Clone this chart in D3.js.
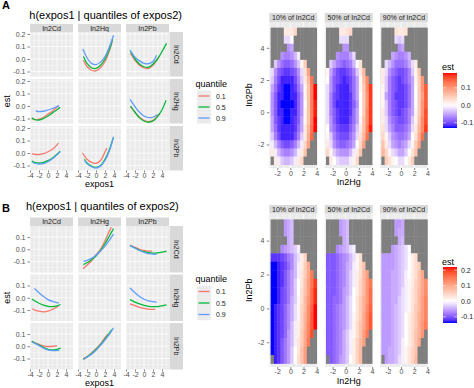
<!DOCTYPE html>
<html>
<head>
<meta charset="utf-8">
<script src="https://cdn.jsdelivr.net/npm/d3@7/dist/d3.min.js"></script>
<style>
  body { margin: 0; background: #fff; }
  svg { display: block; }
  text { font-family: "Liberation Sans", Arial, Helvetica, sans-serif; }
</style>
</head>
<body>
<svg id="fig" width="474" height="388"></svg>
<script>
// ---------------------------------------------------------------------------
// data
// ---------------------------------------------------------------------------
const _ = null; // NA tile

const facetVars = ["In2Cd", "In2Hg", "In2Pb"];
const quantileLevels = ["0.1", "0.5", "0.9"];
const quantileColors = ["#F8766D", "#00BA38", "#619CFF"];
const expos1Ticks = [-4, -2, 0, 2, 4];
const estTicksA = [-0.1, 0.0, 0.1, 0.2];
const estTicksB = [-0.1, 0.0, 0.1];

const heatStrips = ["10% of In2Cd", "50% of In2Cd", "90% of In2Cd"];
const heatXTicks = [-2, 0, 2, 4];
const heatYTicks = [-2, 0, 2, 4];
const heatXCenters = [-2.75, -2.25, -1.75, -1.25, -0.75, -0.25, 0.25, 0.75, 1.25, 1.75, 2.25, 2.75, 3.25, 3.75];
const heatYCenters = [5, 4.5, 4, 3.5, 3, 2.5, 2, 1.5, 1, 0.5, 0, -0.5, -1, -1.5, -2, -2.5, -3];
const estRangeA = [-0.13, 0.185];
const estRangeB = [-0.14, 0.22];
const legendTicksA = [-0.1, 0.0, 0.1];
const legendTicksB = [-0.1, 0.0, 0.1, 0.2];

// h(expos1 | quantiles of expos2): [expos1, est]
const curvesA = [
  { row: "In2Cd", col: "In2Hg", q: "0.1", pts: [[-2.8,-0.01],[-2,-0.06],[-1,-0.09],[0,-0.095],[1,-0.07],[2,-0.02],[3,0.07],[3.6,0.14]] },
  { row: "In2Cd", col: "In2Hg", q: "0.5", pts: [[-2.8,0.02],[-2,-0.035],[-1,-0.07],[0,-0.075],[1,-0.05],[2,0.0],[3,0.08],[3.7,0.16]] },
  { row: "In2Cd", col: "In2Hg", q: "0.9", pts: [[-2.9,0.08],[-2,0.01],[-1,-0.035],[0,-0.045],[1,-0.025],[2,0.02],[3,0.1],[3.9,0.19]] },
  { row: "In2Cd", col: "In2Pb", q: "0.1", pts: [[-3,0.045],[-2,-0.01],[-1,-0.05],[0,-0.072],[1,-0.075],[2,-0.05],[3,0.0],[3.4,0.02]] },
  { row: "In2Cd", col: "In2Pb", q: "0.5", pts: [[-3,0.06],[-2,0.0],[-1,-0.04],[0,-0.062],[1,-0.065],[2,-0.04],[3,0.0],[4,0.06],[5,0.125]] },
  { row: "In2Cd", col: "In2Pb", q: "0.9", pts: [[-3.1,0.072],[-2,0.015],[-1,-0.015],[0,-0.035],[1,-0.038],[2,-0.02],[2.8,0.03]] },
  { row: "In2Hg", col: "In2Cd", q: "0.1", pts: [[-3.6,-0.1],[-3,-0.108],[-2,-0.105],[-1,-0.09],[0,-0.065],[1,-0.04],[2,-0.01],[2.3,0.0]] },
  { row: "In2Hg", col: "In2Cd", q: "0.5", pts: [[-3.6,-0.095],[-3,-0.108],[-2,-0.112],[-1,-0.1],[0,-0.08],[1,-0.055],[2,-0.03],[2.7,-0.01]] },
  { row: "In2Hg", col: "In2Cd", q: "0.9", pts: [[-2.7,-0.04],[-2,-0.045],[-1,-0.042],[0,-0.032],[1,-0.02],[2,-0.005],[2.4,0.005]] },
  { row: "In2Hg", col: "In2Pb", q: "0.1", pts: [[-3,-0.005],[-2,-0.05],[-1,-0.09],[0,-0.115],[1,-0.125],[2,-0.115],[3,-0.08],[3.5,-0.06]] },
  { row: "In2Hg", col: "In2Pb", q: "0.5", pts: [[-3,0.0],[-2,-0.05],[-1,-0.095],[0,-0.12],[1,-0.13],[2,-0.12],[3,-0.085],[4,-0.03],[4.9,0.045]] },
  { row: "In2Hg", col: "In2Pb", q: "0.9", pts: [[-3.1,0.053],[-2,-0.005],[-1,-0.05],[0,-0.08],[1,-0.093],[2,-0.09],[3,-0.068]] },
  { row: "In2Pb", col: "In2Cd", q: "0.1", pts: [[-3.6,-0.005],[-3,-0.01],[-2,-0.012],[-1,-0.005],[0,0.01],[1,0.03],[2,0.065],[2.3,0.08]] },
  { row: "In2Pb", col: "In2Cd", q: "0.5", pts: [[-3.6,-0.065],[-3,-0.075],[-2,-0.08],[-1,-0.075],[0,-0.06],[1,-0.04],[2,-0.01],[2.7,0.015]] },
  { row: "In2Pb", col: "In2Cd", q: "0.9", pts: [[-3.4,-0.075],[-3,-0.082],[-2,-0.088],[-1,-0.085],[0,-0.07],[1,-0.045],[2,-0.015],[2.7,0.01]] },
  { row: "In2Pb", col: "In2Hg", q: "0.1", pts: [[-3,0.0],[-2,-0.05],[-1,-0.075],[0,-0.082],[1,-0.06],[2,0.01],[2.4,0.04]] },
  { row: "In2Pb", col: "In2Hg", q: "0.5", pts: [[-2.6,-0.05],[-2,-0.08],[-1,-0.105],[0,-0.115],[1,-0.1],[2,-0.05],[3,0.03],[3.8,0.12]] },
  { row: "In2Pb", col: "In2Hg", q: "0.9", pts: [[-2.5,-0.06],[-2,-0.085],[-1,-0.11],[0,-0.12],[1,-0.105],[2,-0.06],[3,0.02],[3.9,0.13]] }
];

const curvesB = [
  { row: "In2Cd", col: "In2Hg", q: "0.1", pts: [[-2.9,-0.16],[-2,-0.13],[-1,-0.095],[0,-0.045],[1,0.0],[2,0.07],[3,0.15],[3.4,0.18]] },
  { row: "In2Cd", col: "In2Hg", q: "0.5", pts: [[-2.8,-0.125],[-2,-0.11],[-1,-0.085],[0,-0.055],[1,-0.01],[2,0.045],[3,0.11],[3.9,0.17]] },
  { row: "In2Cd", col: "In2Hg", q: "0.9", pts: [[-2.8,-0.097],[-2,-0.09],[-1,-0.075],[0,-0.05],[1,-0.015],[2,0.025],[3,0.075],[3.9,0.125]] },
  { row: "In2Cd", col: "In2Pb", q: "0.1", pts: [[-3.1,0.035],[-2,0.015],[-1,0.0],[0,-0.01],[1,-0.015],[1.8,-0.015]] },
  { row: "In2Cd", col: "In2Pb", q: "0.5", pts: [[-3.1,0.03],[-2,0.01],[-1,-0.008],[0,-0.02],[1,-0.028],[2,-0.032],[3,-0.03],[4,-0.024],[5,-0.015]] },
  { row: "In2Cd", col: "In2Pb", q: "0.9", pts: [[-3.1,0.03],[-2,0.008],[-1,-0.01],[0,-0.025],[1,-0.035],[2,-0.04],[2.8,-0.042]] },
  { row: "In2Hg", col: "In2Cd", q: "0.1", pts: [[-3.5,-0.09],[-3,-0.1],[-2,-0.11],[-1,-0.115],[0,-0.11],[1,-0.095],[2,-0.075],[2.3,-0.065]] },
  { row: "In2Hg", col: "In2Cd", q: "0.5", pts: [[-3.6,-0.01],[-3,-0.025],[-2,-0.045],[-1,-0.06],[0,-0.07],[1,-0.072],[2,-0.066],[2.8,-0.055]] },
  { row: "In2Hg", col: "In2Cd", q: "0.9", pts: [[-3.0,0.075],[-2,0.04],[-1,0.01],[0,-0.015],[1,-0.03],[2,-0.04],[2.4,-0.042]] },
  { row: "In2Hg", col: "In2Pb", q: "0.1", pts: [[-3.1,-0.05],[-2,-0.065],[-1,-0.078],[0,-0.087],[1,-0.093],[2,-0.095],[2.5,-0.095]] },
  { row: "In2Hg", col: "In2Pb", q: "0.5", pts: [[-3.1,-0.015],[-2,-0.035],[-1,-0.05],[0,-0.062],[1,-0.07],[2,-0.073],[3,-0.072],[4,-0.066],[5,-0.058]] },
  { row: "In2Hg", col: "In2Pb", q: "0.9", pts: [[-3.1,0.08],[-2,0.04],[-1,0.01],[0,-0.012],[1,-0.025],[2,-0.032],[2.8,-0.036]] },
  { row: "In2Pb", col: "In2Cd", q: "0.1", pts: [[-3.6,0.04],[-3,0.03],[-2,0.015],[-1,0.003],[0,-0.002],[1,0.0],[2,0.005]] },
  { row: "In2Pb", col: "In2Cd", q: "0.5", pts: [[-3.6,0.04],[-3,0.028],[-2,0.01],[-1,-0.01],[0,-0.025],[1,-0.03],[2,-0.025],[2.8,-0.015]] },
  { row: "In2Pb", col: "In2Cd", q: "0.9", pts: [[-3.5,0.035],[-3,0.025],[-2,0.005],[-1,-0.015],[0,-0.03],[1,-0.036],[2,-0.035],[2.5,-0.032]] },
  { row: "In2Pb", col: "In2Hg", q: "0.1", pts: [[-2.9,-0.105],[-2,-0.085],[-1,-0.055],[0,-0.02],[1,0.02],[2,0.07],[2.6,0.1]] },
  { row: "In2Pb", col: "In2Hg", q: "0.5", pts: [[-2.8,-0.105],[-2,-0.088],[-1,-0.06],[0,-0.027],[1,0.013],[2,0.06],[3,0.11],[3.5,0.135]] },
  { row: "In2Pb", col: "In2Hg", q: "0.9", pts: [[-2.7,-0.105],[-2,-0.09],[-1,-0.065],[0,-0.032],[1,0.007],[2,0.052],[3,0.1],[3.9,0.15]] }
];

// est surfaces (x 0.01), rows = heatYCenters, columns = heatXCenters
const heatA10 = [
  [_,_,_,_,2,2,2,4,_,_,_,_,_,_],
  [_,_,_,_,-2,-2,0,_,_,_,_,_,_,_],
  [_,_,_,_,_,-6,-5,_,_,_,_,_,_,_],
  [_,_,_,-6,-7,-7,-6,-4,-1,_,_,_,_,_],
  [_,-3,-6,-8,-9,-9,-8,-6,-3,1,5,_,_,_],
  [-2,-6,-9,-10,-11,-11,-10,-9,-6,-2,3,9,_,_],
  [-3,-7,-10,-12,-12,-12,-12,-10,-7,-3,2,7,13,_],
  [-5,-8,-11,-12,-13,-13,-12,-11,-8,-5,1,6,12,19],
  [-6,-9,-12,-12,-13,-13,-12,-12,-9,-6,1,6,12,19],
  [-6,-9,-12,-13,-13,-13,-13,-12,-9,-6,0,6,12,18],
  [-6,-9,-12,-12,-13,-13,-12,-12,-9,-6,1,6,12,18],
  [-5,-9,-11,-12,-13,-13,-12,-11,-9,-5,1,6,12,19],
  [-5,-8,-11,-12,-12,-12,-12,-11,-8,-5,2,7,13,19],
  [-3,-7,-10,-12,-12,-12,-12,-10,-7,-3,2,8,14,_],
  [-1,-4,-7,-9,-10,-10,-9,-7,-4,-1,4,9,_,_],
  [2,-1,-4,-6,-7,-7,-6,-4,-1,2,6,_,_,_],
  [_,2,-1,-3,-4,-4,-3,-1,2,4,_,_,_,_]
];
const heatA50 = [
  [_,_,_,_,2,2,3,4,_,_,_,_,_,_],
  [_,_,_,_,-2,-2,-2,_,_,_,_,_,_,_],
  [_,_,_,_,_,-6,-6,_,_,_,_,_,_,_],
  [_,_,_,-6,-7,-7,-7,-5,-2,_,_,_,_,_],
  [_,-3,-5,-7,-8,-9,-8,-7,-4,0,3,_,_,_],
  [1,-5,-8,-10,-11,-11,-10,-9,-7,-3,2,7,_,_],
  [0,-6,-9,-10,-11,-12,-11,-10,-8,-5,1,6,11,_],
  [-2,-6,-9,-11,-12,-12,-12,-10,-8,-5,1,5,11,17],
  [-2,-7,-10,-11,-12,-12,-12,-11,-8,-5,0,5,10,17],
  [-2,-7,-10,-12,-12,-12,-12,-11,-9,-6,0,5,10,17],
  [-2,-7,-9,-11,-12,-12,-12,-11,-8,-5,0,5,11,17],
  [-2,-6,-9,-11,-12,-12,-12,-10,-8,-5,1,6,11,17],
  [0,-6,-8,-10,-11,-11,-11,-9,-7,-3,2,6,12,18],
  [1,-3,-7,-9,-10,-10,-10,-8,-6,-2,3,7,13,_],
  [2,-2,-6,-8,-9,-9,-8,-7,-5,0,4,9,_,_],
  [4,1,-3,-5,-6,-6,-6,-4,-1,2,6,_,_,_],
  [_,2,0,-2,-3,-3,-3,-1,1,4,_,_,_,_]
];
const heatA90 = [
  [_,_,_,_,3,2,2,3,_,_,_,_,_,_],
  [_,_,_,_,-2,-3,-2,_,_,_,_,_,_,_],
  [_,_,_,_,_,-6,-5,_,_,_,_,_,_,_],
  [_,_,_,-5,-6,-7,-7,-6,-4,_,_,_,_,_],
  [_,-2,-4,-6,-8,-8,-8,-7,-5,-2,2,_,_,_],
  [2,-2,-6,-8,-9,-10,-10,-9,-7,-3,1,6,_,_],
  [2,-3,-7,-9,-10,-11,-10,-9,-7,-5,1,5,10,_],
  [1,-3,-7,-9,-10,-11,-11,-10,-8,-5,0,5,10,15],
  [1,-5,-7,-9,-11,-11,-11,-10,-8,-5,0,5,9,15],
  [1,-3,-7,-9,-10,-11,-11,-10,-8,-5,0,5,10,15],
  [2,-3,-7,-9,-10,-11,-10,-9,-7,-5,1,5,10,16],
  [2,-2,-6,-8,-9,-10,-10,-9,-7,-3,1,6,11,16],
  [3,-2,-5,-7,-9,-9,-9,-8,-6,-2,2,7,11,17],
  [4,1,-3,-6,-7,-8,-8,-7,-5,0,3,8,13,_],
  [6,2,-2,-5,-6,-7,-6,-5,-2,1,5,9,_,_],
  [7,4,1,-2,-3,-5,-5,-3,0,3,6,_,_,_],
  [_,5,3,1,0,-2,-2,0,2,5,_,_,_,_]
];
const heatB10 = [
  [_,_,_,_,-6,-5,-4,_,_,_,_,_,_,_],
  [_,_,_,_,-6,-5,-4,_,_,_,_,_,_,_],
  [_,_,_,_,_,-5,-4,_,_,_,_,_,_,_],
  [_,_,_,-7,-6,-5,-4,-3,-1,_,_,_,_,_],
  [-12,-12,-12,-11,-10,-8,-7,-4,-2,2,5,_,_,_],
  [-14,-14,-13,-12,-11,-9,-7,-4,-1,2,6,10,_,_],
  [-14,-14,-13,-12,-10,-8,-6,-4,-1,3,6,10,15,_],
  [-14,-14,-13,-12,-10,-8,-6,-3,0,3,7,11,15,20],
  [-14,-14,-13,-11,-10,-8,-6,-3,0,4,7,11,16,21],
  [-14,-14,-13,-11,-10,-8,-5,-3,1,4,8,12,16,21],
  [-14,-13,-12,-11,-9,-7,-5,-2,1,5,8,13,17,22],
  [-14,-13,-12,-11,-9,-7,-5,-2,1,5,9,13,18,22],
  [-14,-13,-12,-11,-9,-7,-4,-1,2,5,9,14,18,22],
  [-14,-13,-12,-11,-9,-6,-4,-1,2,6,10,14,19,_],
  [-14,-13,-12,-10,-8,-6,-4,-1,3,6,10,15,_,_],
  [-14,-13,-12,-10,-8,-6,-3,0,3,7,11,_,_,_],
  [_,-13,-12,-10,-8,-6,-3,0,4,7,11,_,_,_]
];
const heatB50 = [
  [_,_,_,_,-6,-5,-4,_,_,_,_,_,_,_],
  [_,_,_,_,-6,-5,-4,_,_,_,_,_,_,_],
  [_,_,_,_,_,-5,-4,_,_,_,_,_,_,_],
  [_,_,_,-7,-6,-5,-4,-2,-1,_,_,_,_,_],
  [-10,-10,-10,-9,-8,-7,-6,-4,-2,1,4,_,_,_],
  [-10,-10,-10,-9,-8,-7,-5,-4,-1,1,4,7,_,_],
  [-10,-10,-10,-9,-8,-7,-5,-3,-1,2,4,8,11,_],
  [-10,-10,-10,-9,-8,-7,-5,-3,-1,2,5,8,12,15],
  [-10,-10,-10,-9,-8,-6,-5,-3,0,2,5,8,12,16],
  [-10,-10,-9,-9,-8,-6,-4,-2,0,3,6,9,12,16],
  [-10,-10,-9,-8,-7,-6,-4,-2,0,3,6,9,13,17],
  [-10,-10,-9,-8,-7,-6,-4,-2,1,3,6,10,14,18],
  [-10,-10,-9,-8,-7,-6,-4,-2,1,4,7,10,14,18],
  [-10,-10,-9,-8,-7,-5,-3,-1,1,4,7,11,15,_],
  [-10,-10,-9,-8,-7,-5,-3,-1,2,5,8,11,_,_],
  [-10,-10,-9,-8,-7,-5,-3,-1,2,5,8,_,_,_],
  [_,-10,-9,-8,-6,-5,-3,0,2,5,8,_,_,_]
];
const heatB90 = [
  [_,_,_,_,-6,-6,-5,_,_,_,_,_,_,_],
  [_,_,_,_,-6,-5,-5,_,_,_,_,_,_,_],
  [_,_,_,_,_,-5,-4,_,_,_,_,_,_,_],
  [_,_,_,-6,-5,-4,-3,-2,0,_,_,_,_,_],
  [-6,-6,-6,-6,-5,-4,-3,-2,0,2,4,_,_,_],
  [-6,-6,-6,-6,-5,-4,-3,-2,0,2,4,6,_,_],
  [-6,-6,-6,-5,-5,-4,-3,-1,0,2,4,7,10,_],
  [-6,-6,-6,-5,-5,-4,-3,-1,1,2,5,7,10,13],
  [-6,-6,-6,-5,-5,-4,-2,-1,1,3,5,8,10,13],
  [-6,-6,-6,-5,-5,-3,-2,-1,1,3,5,8,11,14],
  [-6,-6,-6,-5,-4,-3,-2,-1,1,3,6,8,11,14],
  [-6,-6,-6,-5,-4,-3,-2,0,2,4,6,9,11,14],
  [-6,-6,-6,-5,-4,-3,-2,0,2,4,6,9,12,15],
  [-6,-6,-6,-5,-4,-3,-2,0,2,4,7,9,12,_],
  [-6,-6,-6,-5,-4,-3,-1,0,2,4,7,10,_,_],
  [-6,-6,-5,-5,-4,-3,-1,1,3,5,7,_,_,_],
  [_,-6,-5,-5,-4,-2,-1,1,3,5,8,_,_,_]
];

// ---------------------------------------------------------------------------
// drawing
// ---------------------------------------------------------------------------
const svg = d3.select("#fig");
const defs = svg.append("defs");
const SANS = '"Liberation Sans", Arial, Helvetica, sans-serif';

function minorsOf(ticks, domain) {
  const step = ticks[1] - ticks[0];
  const out = ticks.map(t => t - step / 2).concat([ticks[ticks.length - 1] + step / 2]);
  return out.filter(v => v > domain[0] && v < domain[1]);
}

function styleAxis(sel) {
  sel.select(".domain").remove();
  sel.selectAll(".tick line").attr("stroke", "#333333").attr("stroke-width", 0.6);
  sel.selectAll(".tick text").attr("fill", "#4d4d4d").attr("font-size", 7).attr("font-family", SANS);
}

function addGrid(p, x, y, xt, yt, w, h) {
  const xd = x.domain(), yd = y.domain();
  const grid = [
    ...minorsOf(xt, xd).map(v => ({ v, ax: "x", w: 0.35 })),
    ...minorsOf(yt, yd).map(v => ({ v, ax: "y", w: 0.35 })),
    ...xt.map(v => ({ v, ax: "x", w: 0.7 })),
    ...yt.map(v => ({ v, ax: "y", w: 0.7 }))
  ];
  p.selectAll("line.grid").data(grid).join("line").attr("class", "grid")
    .attr("x1", d => d.ax === "x" ? x(d.v) : 0).attr("x2", d => d.ax === "x" ? x(d.v) : w)
    .attr("y1", d => d.ax === "y" ? y(d.v) : 0).attr("y2", d => d.ax === "y" ? y(d.v) : h)
    .attr("stroke", "#fff").attr("stroke-width", d => d.w);
}

function drawFacets(L, curves, yDomain, yTicks) {
  const g = svg.append("g");
  const x = d3.scaleLinear().domain([-4.0, 5.55]).range([0, L.colW]);
  const y = d3.scaleLinear().domain(yDomain).range([L.rowH, 0]);
  const colour = d3.scaleOrdinal().domain(quantileLevels).range(quantileColors);
  const line = d3.line().x(d => x(d[0])).y(d => y(d[1])).curve(d3.curveCatmullRom);

  g.append("text").attr("x", L.letterX).attr("y", L.letterY)
    .attr("font-family", '"Liberation Serif", "DejaVu Serif", serif')
    .attr("font-weight", "bold").attr("font-size", 11).text(L.letter);
  g.append("text").attr("x", L.titleX).attr("y", L.titleY)
    .attr("font-size", 11).attr("fill", "#000").text("h(expos1 | quantiles of expos2)");

  facetVars.forEach((v, j) => {
    g.append("rect").attr("x", L.colLefts[j]).attr("y", L.stripTop)
      .attr("width", L.colW).attr("height", L.stripH).attr("fill", "#d9d9d9");
    g.append("text").attr("x", L.colLefts[j] + L.colW / 2).attr("y", L.stripTop + L.stripH / 2)
      .attr("dy", "0.36em").attr("text-anchor", "middle").attr("font-size", 7)
      .attr("fill", "#1a1a1a").text(v);
  });

  facetVars.forEach((rowVar, i) => {
    const top = L.rowTops[i];
    g.append("rect").attr("x", L.stripX).attr("y", top)
      .attr("width", L.stripW).attr("height", L.rowH).attr("fill", "#d9d9d9");
    g.append("text")
      .attr("transform", `translate(${L.stripX + L.stripW / 2},${top + L.rowH / 2}) rotate(90)`)
      .attr("dy", "0.36em").attr("text-anchor", "middle").attr("font-size", 7)
      .attr("fill", "#1a1a1a").text(rowVar);

    facetVars.forEach((colVar, j) => {
      const p = g.append("g").attr("transform", `translate(${L.colLefts[j]},${top})`);
      p.append("rect").attr("width", L.colW).attr("height", L.rowH).attr("fill", "#ebebeb");
      addGrid(p, x, y, expos1Ticks, yTicks, L.colW, L.rowH);
      curves.filter(c => c.row === rowVar && c.col === colVar).forEach(c => {
        p.append("path").datum(c.pts).attr("d", line).attr("fill", "none")
          .attr("stroke", colour(c.q)).attr("stroke-width", 1.3);
      });
      if (j === 0) {
        p.append("g").call(d3.axisLeft(y).tickValues(yTicks).tickFormat(d => d.toFixed(1))
          .tickSize(2.5).tickPadding(2)).call(styleAxis);
      }
      if (i === facetVars.length - 1) {
        p.append("g").attr("transform", `translate(0,${L.rowH})`)
          .call(d3.axisBottom(x).tickValues(expos1Ticks).tickFormat(d => String(d))
            .tickSize(2).tickPadding(0.5)).call(styleAxis);
      }
    });
  });

  const bottom = L.rowTops[2] + L.rowH;
  g.append("text").attr("x", (L.colLefts[0] + L.colLefts[2] + L.colW) / 2).attr("y", L.xTitleY)
    .attr("text-anchor", "middle").attr("font-size", 9).text("expos1");
  g.append("text").attr("transform", `translate(${L.yTitleX},${(L.rowTops[0] + bottom) / 2}) rotate(-90)`)
    .attr("text-anchor", "middle").attr("font-size", 9).text("est");

  // legend
  const lg = g.append("g");
  lg.append("text").attr("x", L.legX - 1.5).attr("y", L.legTitleY).attr("font-size", 9).text("quantile");
  quantileLevels.forEach((q, k) => {
    const ky = L.legKeyTop + k * L.legKeyH;
    lg.append("rect").attr("x", L.legX).attr("y", ky).attr("width", 14).attr("height", L.legKeyH)
      .attr("fill", "#ebebeb");
    lg.append("line").attr("x1", L.legX + 1.5).attr("x2", L.legX + 12.5)
      .attr("y1", ky + L.legKeyH / 2).attr("y2", ky + L.legKeyH / 2)
      .attr("stroke", colour(q)).attr("stroke-width", 1.3);
    lg.append("text").attr("x", L.legX + 19).attr("y", ky + L.legKeyH / 2).attr("dy", "0.36em")
      .attr("font-size", 7).attr("fill", "#1a1a1a").text(q);
  });
}

function drawHeat(L, grids, estRange, legendTicks, gid) {
  const g = svg.append("g");
  const x = d3.scaleLinear().domain([-3.2, 4.1]).range([0, L.panelW]);
  const y = d3.scaleLinear().domain([-3.46, 5.6]).range([L.panelH, 0]);
  // low = blue at the minimum, white at 0, high = red at the maximum
  const fill = d3.scaleLinear().domain([estRange[0], 0, estRange[1]])
    .range(["#0000ff", "#ffffff", "#ff0000"]).interpolate(d3.interpolateLab).clamp(true);
  const tw = heatXCenters[1] - heatXCenters[0];
  const th = heatYCenters[0] - heatYCenters[1];

  grids.forEach((grid, k) => {
    const p = g.append("g").attr("transform", `translate(${L.panelLefts[k]},${L.panelTop})`);
    p.append("rect").attr("width", L.panelW).attr("height", L.panelH).attr("fill", "#ebebeb");
    addGrid(p, x, y, heatXTicks, heatYTicks, L.panelW, L.panelH);
    const cells = grid.flatMap((row, i) => row.map((v, j) => ({ x: heatXCenters[j], y: heatYCenters[i], v })));
    p.selectAll("rect.cell").data(cells).join("rect").attr("class", "cell")
      .attr("x", d => x(d.x - tw / 2)).attr("y", d => y(d.y + th / 2))
      .attr("width", d => x(d.x + tw / 2) - x(d.x - tw / 2) + 0.4)
      .attr("height", d => y(d.y - th / 2) - y(d.y + th / 2) + 0.4)
      .attr("fill", d => d.v === null ? "#7f7f7f" : fill(d.v / 100));

    g.append("rect").attr("x", L.panelLefts[k]).attr("y", L.stripTop)
      .attr("width", L.panelW).attr("height", L.panelTop - L.stripTop).attr("fill", "#d9d9d9");
    g.append("text").attr("x", L.panelLefts[k] + L.panelW / 2).attr("y", (L.stripTop + L.panelTop) / 2)
      .attr("dy", "0.36em").attr("text-anchor", "middle").attr("font-size", 7)
      .attr("fill", "#1a1a1a").text(heatStrips[k]);

    p.append("g").attr("transform", `translate(0,${L.panelH})`)
      .call(d3.axisBottom(x).tickValues(heatXTicks).tickFormat(d => String(d))
        .tickSize(2).tickPadding(L.xPad)).call(styleAxis);
    if (k === 0) {
      p.append("g").call(d3.axisLeft(y).tickValues(heatYTicks).tickFormat(d => String(d))
        .tickSize(2.5).tickPadding(2.5)).call(styleAxis);
    }
  });

  g.append("text").attr("x", (L.panelLefts[0] + L.panelLefts[2] + L.panelW) / 2).attr("y", L.xTitleY)
    .attr("text-anchor", "middle").attr("font-size", 9).text("In2Hg");
  g.append("text").attr("transform", `translate(${L.yTitleX},${L.panelTop + L.panelH / 2}) rotate(-90)`)
    .attr("text-anchor", "middle").attr("font-size", 9).text("In2Pb");

  // colour bar legend
  const bar = d3.scaleLinear().domain(estRange).range([L.barBottom, L.barTop]);
  const grad = defs.append("linearGradient").attr("id", gid)
    .attr("x1", 0).attr("y1", 1).attr("x2", 0).attr("y2", 0);
  d3.range(0, 1.0001, 0.05).forEach(t => {
    grad.append("stop").attr("offset", t)
      .attr("stop-color", fill(estRange[0] + t * (estRange[1] - estRange[0])));
  });
  g.append("text").attr("x", L.barX - 1).attr("y", L.legTitleY).attr("font-size", 9).text("est");
  g.append("rect").attr("x", L.barX).attr("y", L.barTop).attr("width", 14)
    .attr("height", L.barBottom - L.barTop).attr("fill", `url(#${gid})`);
  legendTicks.forEach(v => {
    [[0, 2.8], [11.2, 14]].forEach(([a, b]) => {
      g.append("line").attr("x1", L.barX + a).attr("x2", L.barX + b)
        .attr("y1", bar(v)).attr("y2", bar(v)).attr("stroke", "#fff").attr("stroke-width", 0.6);
    });
    g.append("text").attr("x", L.barX + 18).attr("y", bar(v)).attr("dy", "0.36em")
      .attr("font-size", 7).attr("fill", "#1a1a1a").text(v.toFixed(1));
  });
}

// layout A
drawFacets({
  letter: "A", letterX: 2, letterY: 8.5, titleX: 29.3, titleY: 18.5,
  stripTop: 24, stripH: 8, colLefts: [30, 78, 126], colW: 43,
  rowTops: [32, 79, 126], rowH: 44.5, stripX: 169.5, stripW: 13.5,
  xTitleY: 187, yTitleX: 9.5,
  legX: 197, legTitleY: 86.5, legKeyTop: 90.5, legKeyH: 11
}, curvesA, [-0.14, 0.216], estTicksA);

drawHeat({
  panelLefts: [269.3, 324.7, 380], panelW: 48, stripTop: 13, panelTop: 22, panelH: 146,
  xPad: 1, xTitleY: 185, yTitleX: 251.5,
  barX: 443, barTop: 73, barBottom: 128, legTitleY: 70
}, [heatA10, heatA50, heatA90], estRangeA, legendTicksA, "gradA");

// layout B
drawFacets({
  letter: "B", letterX: 2, letterY: 212, titleX: 26, titleY: 210,
  stripTop: 217.5, stripH: 8.5, colLefts: [30, 78, 126], colW: 43,
  rowTops: [226, 274.5, 323], rowH: 46.5, stripX: 169.5, stripW: 13.5,
  xTitleY: 385.5, yTitleX: 9.5,
  legX: 197, legTitleY: 281.5, legKeyTop: 285.75, legKeyH: 11.5
}, curvesB, [-0.19, 0.19], estTicksB);

drawHeat({
  panelLefts: [269.3, 324.7, 380], panelW: 48, stripTop: 205, panelTop: 213.5, panelH: 153.5,
  xPad: 0, xTitleY: 384, yTitleX: 251.5,
  barX: 443, barTop: 267, barBottom: 323, legTitleY: 264.5
}, [heatB10, heatB50, heatB90], estRangeB, legendTicksB, "gradB");
</script>
</body>
</html>
